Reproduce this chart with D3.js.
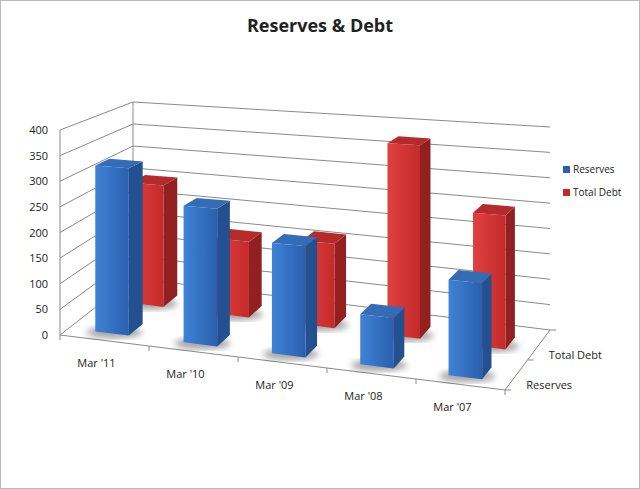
<!DOCTYPE html>
<html><head><meta charset="utf-8">
<script src="https://cdn.jsdelivr.net/npm/d3@7"></script>
<style>body{margin:0;background:#fff}text{font-family:"Open Sans",sans-serif;fill:#222}</style>
</head><body>
<script>
var categories = ["Mar '11", "Mar '10", "Mar '09", "Mar '08", "Mar '07"];
var seriesNames = ["Reserves", "Total Debt"];
var reserves = [327, 263, 208, 92, 172];
var totalDebt = [255, 155, 168, 376, 254];
var yTicks = [0, 50, 100, 150, 200, 250, 300, 350, 400];

var w = 640, h = 489;
var svg = d3.select("body").append("svg").attr("width", w).attr("height", h);
svg.append("rect").attr("x", 0.5).attr("y", 0.5).attr("width", w - 1).attr("height", h - 1)
    .attr("fill", "#fff").attr("stroke", "#bbb");

// floor corners: front-left, front-right, back-left, back-right, with pixel height for 400
var FL = [60, 335, 205], FR = [505, 390, 228], BL = [133, 278, 176], BR = [550, 330, 203];
var uScale = d3.scaleLinear().domain([0, categories.length]).range([0, 1]);
var vScale = d3.scaleLinear().domain([0, 400]).range([0, 1]);

function P(u, d, v) {
    var a = uScale(u);
    var f = FL.map(function (c, i) { return c + (FR[i] - c) * a; });
    var b = BL.map(function (c, i) { return c + (BR[i] - c) * a; });
    var p = f.map(function (c, i) { return c + (b[i] - c) * d; });
    return [p[0], p[1] - vScale(v) * p[2]];
}
var line = function (pts) { return "M" + pts.map(function (p) { return p.join(","); }).join("L") + "Z"; };

var grid = svg.append("g").attr("stroke", "#8a8a8a").attr("stroke-width", 1).attr("fill", "none");
yTicks.forEach(function (t) {
    var a = P(0, 0, t), b = P(0, 1, t), c = P(5, 1, t);
    grid.append("polyline").attr("points", [a, b, c].map(String).join(" "));
});
grid.append("line").attr("x1", P(0, 0, 0)[0]).attr("y1", P(0, 0, 0)[1]).attr("x2", P(0, 0, 400)[0]).attr("y2", P(0, 0, 400)[1]);
grid.append("line").attr("x1", P(0, 1, 0)[0]).attr("y1", P(0, 1, 0)[1]).attr("x2", P(0, 1, 400)[0]).attr("y2", P(0, 1, 400)[1]);
grid.append("polyline").attr("points", [P(0, 0, 0), P(5, 0, 0), P(5, 1, 0)].map(String).join(" "));
d3.range(6).forEach(function (i) {
    var p = P(i, 0, 0);
    grid.append("line").attr("x1", p[0]).attr("y1", p[1]).attr("x2", p[0]).attr("y2", p[1] + 5);
});
[0, 0.5, 1].forEach(function (d) {
    var p = P(5, d, 0);
    grid.append("line").attr("x1", p[0]).attr("y1", p[1]).attr("x2", p[0] + 6).attr("y2", p[1]);
});

yTicks.forEach(function (t) {
    var p = P(0, 0, t);
    svg.append("text").attr("x", p[0] - 12).attr("y", p[1] + 4).attr("text-anchor", "end")
        .attr("font-size", 11).text(t);
});
categories.forEach(function (c, i) {
    var p = P(i + 0.5, 0, 0);
    svg.append("text").attr("x", p[0] - 8).attr("y", p[1] + 26).attr("text-anchor", "middle")
        .attr("font-size", 11).text(c);
});
[["Reserves", 0.25], ["Total Debt", 0.75]].forEach(function (s) {
    var p = P(5, s[1], 0);
    svg.append("text").attr("x", p[0] + 10).attr("y", p[1] + 14).attr("font-size", 11).text(s[0]);
});

var defs = svg.append("defs");
defs.append("filter").attr("id", "blur").append("feGaussianBlur").attr("stdDeviation", 3);
var pal = [
    {front: ["#3f82d6", "#2a5fae"], side: "#23508f", top: "#356cb6"},
    {front: ["#e04040", "#c42a2a"], side: "#922020", top: "#b52a2a"}
];
pal.forEach(function (c, i) {
    var g = defs.append("linearGradient").attr("id", "g" + i).attr("x1", 0).attr("x2", 1);
    g.append("stop").attr("offset", 0).attr("stop-color", c.front[0]);
    g.append("stop").attr("offset", 1).attr("stop-color", c.front[1]);
});

var rows = [{vals: totalDebt, d0: 0.62, d1: 0.82, c: 1}, {vals: reserves, d0: 0.12, d1: 0.32, c: 0}];
rows.forEach(function (r) {
    var g = svg.append("g");
    r.vals.forEach(function (v, i) {
        var u0 = i + 0.3, u1 = i + 0.68;
        var sh = P(i + 0.5, r.d0 + 0.02, 0);
        g.append("ellipse").attr("cx", sh[0]).attr("cy", sh[1]).attr("rx", 28).attr("ry", 6)
            .attr("fill", "#000").attr("opacity", 0.35).attr("filter", "url(#blur)");
        g.append("path").attr("d", line([P(u1, r.d0, 0), P(u1, r.d1, 0), P(u1, r.d1, v), P(u1, r.d0, v)]))
            .attr("fill", pal[r.c].side);
        g.append("path").attr("d", line([P(u0, r.d0, v), P(u1, r.d0, v), P(u1, r.d1, v), P(u0, r.d1, v)]))
            .attr("fill", pal[r.c].top);
        g.append("path").attr("d", line([P(u0, r.d0, 0), P(u1, r.d0, 0), P(u1, r.d0, v), P(u0, r.d0, v)]))
            .attr("fill", "url(#g" + r.c + ")");
    });
});

svg.append("text").attr("x", 320).attr("y", 32).attr("text-anchor", "middle")
    .attr("font-size", 18).attr("font-weight", "bold").text("Reserves & Debt");

seriesNames.forEach(function (s, i) {
    var y = 170 + i * 23;
    svg.append("rect").attr("x", 563).attr("y", y - 4).attr("width", 7).attr("height", 7).attr("fill", pal[i].front[1]);
    svg.append("text").attr("x", 573).attr("y", y + 3).attr("font-size", 10).text(s);
});
</script>
</body></html>
